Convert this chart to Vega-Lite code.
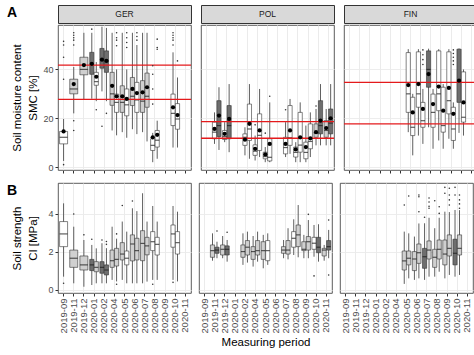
{
"$schema": "https://vega.github.io/schema/vega-lite/v6.json",
"padding": {"left": 6, "top": 4, "right": 0, "bottom": 0},
"config": {
  "font": "Liberation Sans",
  "view": {"stroke": "#333333", "strokeWidth": 0.8},
  "axis": {"domain": false, "tickColor": "#333333", "labelColor": "#4d4d4d", "labelFontSize": 9, "gridColor": "#ebebeb", "titleFontWeight": "normal", "titleFontSize": 11.5, "titleColor": "#000000", "tickSize": 3, "labelFont": "Liberation Sans", "titleFont": "Liberation Sans"}
},
"datasets": {
"ref": [
 {"c":"GER","r":41.8},{"c":"GER","r":27.7},{"c":"POL","r":18.6},{"c":"POL","r":11.8},{"c":"FIN","r":34.7},{"c":"FIN","r":17.7}
],
"box": [
{"c":"GER","v":"SMC","m":"2019-09","s":"S","f":"w","lo":2.5,"q1":9.5,"md":12.2,"q3":14.6,"hi":19.7,"mn":14.6},
{"c":"GER","v":"SMC","m":"2019-11","s":"S","f":"l","lo":22,"q1":30,"md":32,"q3":36,"hi":41,"mn":34},
{"c":"GER","v":"SMC","m":"2019-12","s":"S","f":"l","lo":27.5,"q1":37.8,"md":40,"q3":45,"hi":55,"mn":41.8},
{"c":"GER","v":"SMC","m":"2020-01","s":"L","f":"d","lo":28,"q1":38,"md":42,"q3":47,"hi":55,"mn":42.3},
{"c":"GER","v":"SMC","m":"2020-01","s":"R","f":"w","lo":27,"q1":33.5,"md":35,"q3":38.8,"hi":43,"mn":37},
{"c":"GER","v":"SMC","m":"2020-02","s":"L","f":"d","lo":31,"q1":40.5,"md":44,"q3":48.6,"hi":57.5,"mn":44},
{"c":"GER","v":"SMC","m":"2020-02","s":"R","f":"d","lo":27,"q1":38.8,"md":43.5,"q3":47.6,"hi":57,"mn":43.5},
{"c":"GER","v":"SMC","m":"2020-04","s":"L","f":"l","lo":15,"q1":25.3,"md":30,"q3":38.8,"hi":55,"mn":33.3},
{"c":"GER","v":"SMC","m":"2020-04","s":"R","f":"w","lo":13,"q1":22.4,"md":26.5,"q3":29.9,"hi":40,"mn":29},
{"c":"GER","v":"SMC","m":"2020-05","s":"L","f":"l","lo":14.3,"q1":22.4,"md":26.5,"q3":33.3,"hi":55,"mn":29},
{"c":"GER","v":"SMC","m":"2020-05","s":"R","f":"w","lo":12,"q1":21,"md":25.5,"q3":32,"hi":40,"mn":27.9},
{"c":"GER","v":"SMC","m":"2020-06","s":"L","f":"l","lo":15.5,"q1":25.2,"md":29,"q3":36.7,"hi":55,"mn":32},
{"c":"GER","v":"SMC","m":"2020-06","s":"R","f":"w","lo":13.5,"q1":22.4,"md":27.5,"q3":34.7,"hi":50,"mn":30.3},
{"c":"GER","v":"SMC","m":"2020-07","s":"L","f":"l","lo":14.3,"q1":22.4,"md":27,"q3":35.4,"hi":55,"mn":30.6},
{"c":"GER","v":"SMC","m":"2020-07","s":"R","f":"l","lo":10.5,"q1":24.5,"md":29,"q3":38.5,"hi":55,"mn":32.7},
{"c":"GER","v":"SMC","m":"2020-08","s":"L","f":"w","lo":2,"q1":6.8,"md":8.9,"q3":11.6,"hi":14,"mn":12.2},
{"c":"GER","v":"SMC","m":"2020-08","s":"R","f":"w","lo":3.4,"q1":8.2,"md":11,"q3":15,"hi":19,"mn":13.2},
{"c":"GER","v":"SMC","m":"2020-10","s":"L","f":"w","lo":8,"q1":17,"md":22,"q3":29.9,"hi":47,"mn":24.5},
{"c":"GER","v":"SMC","m":"2020-10","s":"R","f":"w","lo":8,"q1":15.5,"md":19.7,"q3":26,"hi":36.7,"mn":21.3},
{"c":"POL","v":"SMC","m":"2019-11","s":"L","f":"w","lo":9.5,"q1":11.6,"md":14.3,"q3":18.4,"hi":22.4,"mn":15.6},
{"c":"POL","v":"SMC","m":"2019-11","s":"R","f":"d","lo":7,"q1":12.5,"md":17,"q3":27.2,"hi":32.7,"mn":21.1},
{"c":"POL","v":"SMC","m":"2019-12","s":"L","f":"w","lo":10.2,"q1":11.3,"md":12.5,"q3":15,"hi":18.4,"mn":13.6},
{"c":"POL","v":"SMC","m":"2019-12","s":"R","f":"d","lo":6.1,"q1":11.6,"md":17,"q3":25.2,"hi":34,"mn":19.7},
{"c":"POL","v":"SMC","m":"2020-02","s":"L","f":"w","lo":4.8,"q1":8.9,"md":12.2,"q3":13.6,"hi":16.3,"mn":11.2},
{"c":"POL","v":"SMC","m":"2020-02","s":"R","f":"w","lo":3.4,"q1":10.9,"md":15.6,"q3":25.8,"hi":34,"mn":17.7},
{"c":"POL","v":"SMC","m":"2020-04","s":"L","f":"w","lo":2.7,"q1":4.8,"md":6.5,"q3":9.1,"hi":12.9,"mn":7.5},
{"c":"POL","v":"SMC","m":"2020-04","s":"R","f":"w","lo":4.1,"q1":6.8,"md":13,"q3":21.8,"hi":32,"mn":15},
{"c":"POL","v":"SMC","m":"2020-05","s":"L","f":"w","lo":2,"q1":3.4,"md":4.3,"q3":6.1,"hi":8.2,"mn":5.2},
{"c":"POL","v":"SMC","m":"2020-05","s":"R","f":"w","lo":2,"q1":2.5,"md":4,"q3":11.6,"hi":26.5,"mn":9.5},
{"c":"POL","v":"SMC","m":"2020-07","s":"L","f":"w","lo":4.1,"q1":5.4,"md":8,"q3":12.2,"hi":18.4,"mn":9.5},
{"c":"POL","v":"SMC","m":"2020-07","s":"R","f":"w","lo":5.4,"q1":8.9,"md":12,"q3":25.2,"hi":27.9,"mn":15},
{"c":"POL","v":"SMC","m":"2020-08","s":"L","f":"w","lo":2,"q1":4.1,"md":6,"q3":8.2,"hi":10.2,"mn":7.2},
{"c":"POL","v":"SMC","m":"2020-08","s":"R","f":"w","lo":2,"q1":6.1,"md":9,"q3":22.4,"hi":26.5,"mn":12.2},
{"c":"POL","v":"SMC","m":"2020-09","s":"L","f":"w","lo":2,"q1":3.4,"md":6,"q3":10.2,"hi":17,"mn":8.2},
{"c":"POL","v":"SMC","m":"2020-09","s":"R","f":"w","lo":4.1,"q1":7.5,"md":10.5,"q3":17.7,"hi":22.4,"mn":11.8},
{"c":"POL","v":"SMC","m":"2020-10","s":"L","f":"l","lo":8.9,"q1":12.2,"md":14,"q3":17.7,"hi":23.8,"mn":14.3},
{"c":"POL","v":"SMC","m":"2020-10","s":"R","f":"d","lo":8.9,"q1":13.6,"md":17,"q3":27.2,"hi":34,"mn":19},
{"c":"POL","v":"SMC","m":"2020-11","s":"L","f":"l","lo":8.9,"q1":12.2,"md":15,"q3":19,"hi":23.8,"mn":16},
{"c":"POL","v":"SMC","m":"2020-11","s":"R","f":"d","lo":8.9,"q1":13.6,"md":18,"q3":23.8,"hi":34,"mn":20},
{"c":"FIN","v":"SMC","m":"2020-05","s":"L","f":"w","lo":14.3,"q1":22.4,"md":30,"q3":46.9,"hi":48.3,"mn":33.6},
{"c":"FIN","v":"SMC","m":"2020-05","s":"R","f":"w","lo":4.8,"q1":12.9,"md":16.3,"q3":28.6,"hi":30,"mn":22.4},
{"c":"FIN","v":"SMC","m":"2020-06","s":"L","f":"w","lo":12.9,"q1":24.5,"md":30,"q3":47.2,"hi":48.3,"mn":34},
{"c":"FIN","v":"SMC","m":"2020-06","s":"R","f":"w","lo":9.5,"q1":16.3,"md":19,"q3":26.5,"hi":32,"mn":23.8},
{"c":"FIN","v":"SMC","m":"2020-07","s":"L","f":"d","lo":16.3,"q1":32.7,"md":40,"q3":47.6,"hi":48.5,"mn":38.1},
{"c":"FIN","v":"SMC","m":"2020-07","s":"R","f":"w","lo":7.5,"q1":16.3,"md":22.4,"q3":29.9,"hi":32,"mn":25.8},
{"c":"FIN","v":"SMC","m":"2020-08","s":"L","f":"w","lo":10.9,"q1":23.1,"md":30,"q3":47.6,"hi":48.3,"mn":33},
{"c":"FIN","v":"SMC","m":"2020-08","s":"R","f":"w","lo":7.5,"q1":14.3,"md":17,"q3":32.7,"hi":34,"mn":23.1},
{"c":"FIN","v":"SMC","m":"2020-09","s":"L","f":"w","lo":11.6,"q1":21.8,"md":27.2,"q3":47.2,"hi":48.3,"mn":32.4},
{"c":"FIN","v":"SMC","m":"2020-09","s":"R","f":"w","lo":7.5,"q1":10.9,"md":15.6,"q3":24.5,"hi":26.5,"mn":21.8},
{"c":"FIN","v":"SMC","m":"2020-10","s":"L","f":"d","lo":14,"q1":26.5,"md":35,"q3":48.3,"hi":48.6,"mn":35.4},
{"c":"FIN","v":"SMC","m":"2020-10","s":"R","f":"w","lo":12.9,"q1":18.4,"md":20.4,"q3":39,"hi":40,"mn":26.5},
{"c":"GER","v":"CI","m":"2019-09","s":"S","f":"w","lo":0.7,"q1":2.28,"md":2.95,"q3":3.6,"hi":4.56},
{"c":"GER","v":"CI","m":"2019-11","s":"S","f":"l","lo":0.35,"q1":1.19,"md":1.67,"q3":2.1,"hi":3.33},
{"c":"GER","v":"CI","m":"2019-12","s":"S","f":"l","lo":0.17,"q1":1.05,"md":1.32,"q3":1.79,"hi":2.63},
{"c":"GER","v":"CI","m":"2020-01","s":"L","f":"d","lo":0.26,"q1":1.02,"md":1.32,"q3":1.61,"hi":2.37},
{"c":"GER","v":"CI","m":"2020-01","s":"R","f":"l","lo":0.35,"q1":0.96,"md":1.19,"q3":1.49,"hi":2.19},
{"c":"GER","v":"CI","m":"2020-02","s":"L","f":"d","lo":0.35,"q1":0.88,"md":1.19,"q3":1.49,"hi":2.46},
{"c":"GER","v":"CI","m":"2020-02","s":"R","f":"d","lo":0.35,"q1":0.79,"md":1.05,"q3":1.32,"hi":2.2},
{"c":"GER","v":"CI","m":"2020-04","s":"L","f":"l","lo":0.53,"q1":1.19,"md":1.54,"q3":2.1,"hi":3.33},
{"c":"GER","v":"CI","m":"2020-04","s":"R","f":"l","lo":0.45,"q1":1.26,"md":1.61,"q3":2.19,"hi":2.7},
{"c":"GER","v":"CI","m":"2020-05","s":"L","f":"l","lo":0.53,"q1":1.58,"md":1.89,"q3":2.49,"hi":3.6},
{"c":"GER","v":"CI","m":"2020-05","s":"R","f":"w","lo":0.35,"q1":1.32,"md":1.67,"q3":2.05,"hi":3.07},
{"c":"GER","v":"CI","m":"2020-06","s":"L","f":"l","lo":0.35,"q1":1.53,"md":2.42,"q3":2.9,"hi":4.3},
{"c":"GER","v":"CI","m":"2020-06","s":"R","f":"l","lo":0.35,"q1":1.58,"md":2.07,"q3":2.72,"hi":4.15},
{"c":"GER","v":"CI","m":"2020-07","s":"L","f":"l","lo":0.35,"q1":1.54,"md":2.45,"q3":3.12,"hi":5.09},
{"c":"GER","v":"CI","m":"2020-07","s":"R","f":"l","lo":0.44,"q1":1.85,"md":2.32,"q3":2.77,"hi":3.6},
{"c":"GER","v":"CI","m":"2020-08","s":"L","f":"w","lo":0.53,"q1":2.07,"md":2.54,"q3":3.07,"hi":4.42},
{"c":"GER","v":"CI","m":"2020-08","s":"R","f":"w","lo":0.53,"q1":1.84,"md":2.4,"q3":2.77,"hi":3.6},
{"c":"GER","v":"CI","m":"2020-10","s":"L","f":"w","lo":0.53,"q1":2.25,"md":2.95,"q3":3.42,"hi":4.42},
{"c":"GER","v":"CI","m":"2020-10","s":"R","f":"w","lo":0.45,"q1":1.89,"md":2.49,"q3":3.07,"hi":4.12},
{"c":"POL","v":"CI","m":"2019-11","s":"L","f":"l","lo":1.54,"q1":1.72,"md":2.07,"q3":2.37,"hi":2.98},
{"c":"POL","v":"CI","m":"2019-11","s":"R","f":"d","lo":1.67,"q1":1.93,"md":2.1,"q3":2.25,"hi":2.54},
{"c":"POL","v":"CI","m":"2019-12","s":"L","f":"l","lo":1.67,"q1":1.84,"md":2.14,"q3":2.37,"hi":2.84},
{"c":"POL","v":"CI","m":"2019-12","s":"R","f":"d","lo":1.49,"q1":1.84,"md":2.14,"q3":2.32,"hi":2.63},
{"c":"POL","v":"CI","m":"2020-02","s":"L","f":"l","lo":1.32,"q1":1.72,"md":2.02,"q3":2.37,"hi":2.98},
{"c":"POL","v":"CI","m":"2020-02","s":"R","f":"l","lo":1.44,"q1":1.84,"md":2.25,"q3":2.6,"hi":3.07},
{"c":"POL","v":"CI","m":"2020-04","s":"L","f":"l","lo":1.23,"q1":1.61,"md":2.02,"q3":2.28,"hi":2.84},
{"c":"POL","v":"CI","m":"2020-04","s":"R","f":"l","lo":1.49,"q1":1.84,"md":2.07,"q3":2.6,"hi":3.07},
{"c":"POL","v":"CI","m":"2020-05","s":"L","f":"l","lo":1.14,"q1":1.61,"md":2.07,"q3":2.54,"hi":2.9},
{"c":"POL","v":"CI","m":"2020-05","s":"R","f":"w","lo":1.32,"q1":1.54,"md":2.07,"q3":2.6,"hi":2.98},
{"c":"POL","v":"CI","m":"2020-07","s":"L","f":"l","lo":1.67,"q1":1.93,"md":2.1,"q3":2.28,"hi":2.63},
{"c":"POL","v":"CI","m":"2020-07","s":"R","f":"l","lo":1.61,"q1":1.89,"md":2.1,"q3":2.6,"hi":3.25},
{"c":"POL","v":"CI","m":"2020-08","s":"L","f":"w","lo":1.84,"q1":2.25,"md":2.72,"q3":3.07,"hi":3.72},
{"c":"POL","v":"CI","m":"2020-08","s":"R","f":"l","lo":1.72,"q1":2.28,"md":2.9,"q3":3.42,"hi":4.47},
{"c":"POL","v":"CI","m":"2020-09","s":"L","f":"l","lo":1.67,"q1":2.07,"md":2.14,"q3":2.54,"hi":2.9},
{"c":"POL","v":"CI","m":"2020-09","s":"R","f":"l","lo":1.67,"q1":2.1,"md":2.54,"q3":2.81,"hi":3.68},
{"c":"POL","v":"CI","m":"2020-10","s":"L","f":"w","lo":1.75,"q1":2.14,"md":2.46,"q3":2.77,"hi":3.42},
{"c":"POL","v":"CI","m":"2020-10","s":"R","f":"d","lo":1.49,"q1":1.96,"md":2.25,"q3":2.77,"hi":3.46},
{"c":"POL","v":"CI","m":"2020-11","s":"L","f":"l","lo":1.54,"q1":1.79,"md":2.1,"q3":2.19,"hi":2.37},
{"c":"POL","v":"CI","m":"2020-11","s":"R","f":"d","lo":1.67,"q1":2.1,"md":2.28,"q3":2.6,"hi":3.16},
{"c":"FIN","v":"CI","m":"2020-05","s":"L","f":"l","lo":0.32,"q1":1.05,"md":1.53,"q3":2.05,"hi":3.07},
{"c":"FIN","v":"CI","m":"2020-05","s":"R","f":"l","lo":0.61,"q1":1.32,"md":1.67,"q3":2.05,"hi":2.98},
{"c":"FIN","v":"CI","m":"2020-06","s":"L","f":"l","lo":0.53,"q1":1.02,"md":1.63,"q3":2.02,"hi":2.81},
{"c":"FIN","v":"CI","m":"2020-06","s":"R","f":"l","lo":0.61,"q1":1.4,"md":1.96,"q3":2.42,"hi":3.5},
{"c":"FIN","v":"CI","m":"2020-07","s":"L","f":"d","lo":0.53,"q1":1.14,"md":1.75,"q3":2.19,"hi":3.51},
{"c":"FIN","v":"CI","m":"2020-07","s":"R","f":"l","lo":0.7,"q1":1.63,"md":2.1,"q3":2.58,"hi":3.8},
{"c":"FIN","v":"CI","m":"2020-08","s":"L","f":"l","lo":0.7,"q1":1.19,"md":1.72,"q3":2.14,"hi":3.25},
{"c":"FIN","v":"CI","m":"2020-08","s":"R","f":"l","lo":0.96,"q1":1.63,"md":2.14,"q3":2.63,"hi":3.8},
{"c":"FIN","v":"CI","m":"2020-09","s":"L","f":"l","lo":0.61,"q1":1.32,"md":1.89,"q3":2.63,"hi":4.12},
{"c":"FIN","v":"CI","m":"2020-09","s":"R","f":"l","lo":0.79,"q1":1.79,"md":2.19,"q3":2.9,"hi":4.1},
{"c":"FIN","v":"CI","m":"2020-10","s":"L","f":"d","lo":0.7,"q1":1.32,"md":1.93,"q3":2.67,"hi":4.21},
{"c":"FIN","v":"CI","m":"2020-10","s":"R","f":"l","lo":0.79,"q1":1.84,"md":2.19,"q3":2.9,"hi":4.2}
],
"out": [
{"c":"GER","v":"SMC","m":"2019-09","s":"S","val":1},{"c":"GER","v":"SMC","m":"2019-09","s":"S","val":36},{"c":"GER","v":"SMC","m":"2019-09","s":"S","val":45},{"c":"GER","v":"SMC","m":"2019-09","s":"S","val":50},{"c":"GER","v":"SMC","m":"2019-09","s":"S","val":51.5},
{"c":"GER","v":"SMC","m":"2019-11","s":"S","val":15},{"c":"GER","v":"SMC","m":"2019-11","s":"S","val":19},{"c":"GER","v":"SMC","m":"2019-11","s":"S","val":50},{"c":"GER","v":"SMC","m":"2019-11","s":"S","val":52},{"c":"GER","v":"SMC","m":"2019-11","s":"S","val":53},{"c":"GER","v":"SMC","m":"2019-11","s":"S","val":54},{"c":"GER","v":"SMC","m":"2019-11","s":"S","val":55},
{"c":"GER","v":"SMC","m":"2020-01","s":"L","val":56.5},{"c":"GER","v":"SMC","m":"2020-01","s":"R","val":23.5},
{"c":"GER","v":"SMC","m":"2020-02","s":"L","val":16.7},{"c":"GER","v":"SMC","m":"2020-02","s":"R","val":22},
{"c":"GER","v":"SMC","m":"2020-04","s":"R","val":49.7},{"c":"GER","v":"SMC","m":"2020-04","s":"R","val":52},{"c":"GER","v":"SMC","m":"2020-04","s":"R","val":53},{"c":"GER","v":"SMC","m":"2020-04","s":"R","val":55},
{"c":"GER","v":"SMC","m":"2020-05","s":"R","val":49},{"c":"GER","v":"SMC","m":"2020-05","s":"R","val":51},{"c":"GER","v":"SMC","m":"2020-05","s":"R","val":53},{"c":"GER","v":"SMC","m":"2020-05","s":"R","val":55},
{"c":"GER","v":"SMC","m":"2020-06","s":"R","val":52},{"c":"GER","v":"SMC","m":"2020-06","s":"R","val":53.5},{"c":"GER","v":"SMC","m":"2020-06","s":"R","val":55},
{"c":"GER","v":"SMC","m":"2020-08","s":"L","val":25.8},{"c":"GER","v":"SMC","m":"2020-08","s":"L","val":32},{"c":"GER","v":"SMC","m":"2020-08","s":"L","val":38},{"c":"GER","v":"SMC","m":"2020-08","s":"L","val":41.5},{"c":"GER","v":"SMC","m":"2020-08","s":"R","val":48.3},{"c":"GER","v":"SMC","m":"2020-08","s":"R","val":49},{"c":"GER","v":"SMC","m":"2020-08","s":"R","val":52.4},
{"c":"GER","v":"SMC","m":"2020-10","s":"L","val":50},{"c":"GER","v":"SMC","m":"2020-10","s":"L","val":52},{"c":"GER","v":"SMC","m":"2020-10","s":"L","val":53},{"c":"GER","v":"SMC","m":"2020-10","s":"L","val":54},{"c":"GER","v":"SMC","m":"2020-10","s":"L","val":55},{"c":"GER","v":"SMC","m":"2020-10","s":"R","val":43.5},
{"c":"POL","v":"SMC","m":"2020-04","s":"L","val":17.3},{"c":"POL","v":"SMC","m":"2020-05","s":"L","val":13.9},{"c":"POL","v":"SMC","m":"2020-05","s":"R","val":29},{"c":"POL","v":"SMC","m":"2020-07","s":"L","val":23.5},{"c":"POL","v":"SMC","m":"2020-10","s":"L","val":25},
{"c":"FIN","v":"SMC","m":"2020-06","s":"R","val":42},{"c":"FIN","v":"SMC","m":"2020-06","s":"R","val":44},{"c":"FIN","v":"SMC","m":"2020-06","s":"R","val":46},{"c":"FIN","v":"SMC","m":"2020-06","s":"R","val":48},
{"c":"FIN","v":"SMC","m":"2020-09","s":"R","val":42},{"c":"FIN","v":"SMC","m":"2020-09","s":"R","val":43.5},{"c":"FIN","v":"SMC","m":"2020-09","s":"R","val":45},{"c":"FIN","v":"SMC","m":"2020-09","s":"R","val":46.5},{"c":"FIN","v":"SMC","m":"2020-09","s":"R","val":48},
{"c":"GER","v":"CI","m":"2019-09","s":"S","val":0.35},{"c":"GER","v":"CI","m":"2019-11","s":"S","val":4.0},{"c":"GER","v":"CI","m":"2019-12","s":"S","val":2.9},
{"c":"GER","v":"CI","m":"2020-01","s":"L","val":2.67},{"c":"GER","v":"CI","m":"2020-02","s":"L","val":2.63},{"c":"GER","v":"CI","m":"2020-02","s":"R","val":2.4},{"c":"GER","v":"CI","m":"2020-02","s":"R","val":2.55},
{"c":"GER","v":"CI","m":"2020-04","s":"R","val":2.95},{"c":"GER","v":"CI","m":"2020-04","s":"R","val":0.3},{"c":"GER","v":"CI","m":"2020-05","s":"L","val":4.45},{"c":"GER","v":"CI","m":"2020-06","s":"L","val":4.68},
{"c":"GER","v":"CI","m":"2020-08","s":"L","val":0.3},{"c":"GER","v":"CI","m":"2020-10","s":"L","val":0.4},
{"c":"POL","v":"CI","m":"2019-11","s":"R","val":3.1},{"c":"POL","v":"CI","m":"2019-12","s":"R","val":3.04},{"c":"POL","v":"CI","m":"2020-09","s":"R","val":3.98},{"c":"POL","v":"CI","m":"2020-10","s":"L","val":0.74},{"c":"POL","v":"CI","m":"2020-11","s":"R","val":3.68},{"c":"POL","v":"CI","m":"2020-11","s":"R","val":0.79},
{"c":"FIN","v":"CI","m":"2020-05","s":"L","val":4.47},{"c":"FIN","v":"CI","m":"2020-05","s":"R","val":4.95},
{"c":"FIN","v":"CI","m":"2020-06","s":"R","val":4.12},{"c":"FIN","v":"CI","m":"2020-06","s":"R","val":4.91},{"c":"FIN","v":"CI","m":"2020-06","s":"R","val":5.0},
{"c":"FIN","v":"CI","m":"2020-07","s":"L","val":3.83},{"c":"FIN","v":"CI","m":"2020-07","s":"R","val":4.3},{"c":"FIN","v":"CI","m":"2020-07","s":"R","val":4.4},{"c":"FIN","v":"CI","m":"2020-07","s":"R","val":4.63},{"c":"FIN","v":"CI","m":"2020-07","s":"R","val":4.84},
{"c":"FIN","v":"CI","m":"2020-08","s":"L","val":4.7},{"c":"FIN","v":"CI","m":"2020-08","s":"R","val":4.03},{"c":"FIN","v":"CI","m":"2020-08","s":"R","val":4.38},
{"c":"FIN","v":"CI","m":"2020-09","s":"L","val":5.09},{"c":"FIN","v":"CI","m":"2020-09","s":"L","val":5.4},{"c":"FIN","v":"CI","m":"2020-09","s":"R","val":4.47},{"c":"FIN","v":"CI","m":"2020-09","s":"R","val":4.74},{"c":"FIN","v":"CI","m":"2020-09","s":"R","val":5.0},{"c":"FIN","v":"CI","m":"2020-09","s":"R","val":5.35},
{"c":"FIN","v":"CI","m":"2020-10","s":"L","val":5.0},{"c":"FIN","v":"CI","m":"2020-10","s":"L","val":5.4},{"c":"FIN","v":"CI","m":"2020-10","s":"R","val":4.3},{"c":"FIN","v":"CI","m":"2020-10","s":"R","val":4.53},{"c":"FIN","v":"CI","m":"2020-10","s":"R","val":4.74},{"c":"FIN","v":"CI","m":"2020-10","s":"R","val":5.0}
]
},
"spacing": 8,
"vconcat": [
{
 "hconcat": [
  {"spacing": 0, "vconcat": [
   {"width": 133, "height": 18, "view": {"fill": "#d9d9d9", "stroke": "#333333"}, "data": {"values": [{"c": "GER"}]},
    "title": {"text": "A", "orient": "top", "anchor": "start", "frame": "group", "offset": -15, "dx": -51, "fontSize": 14, "fontWeight": "bold", "color": "#000000"},
    "mark": {"type": "text", "fontSize": 8.5, "color": "#1a1a1a"}, "encoding": {"text": {"field": "c"}}},
   {"width": 133, "height": 145, "layer": [
    {"data": {"name": "box"}, "transform": [{"filter": "datum.v=='SMC' && datum.c=='GER'"}],
     "encoding": {
      "x": {"field": "m", "type": "ordinal", "scale": {"domain": ["2019-09","2019-11","2019-12","2020-01","2020-02","2020-04","2020-05","2020-06","2020-07","2020-08","2020-09","2020-10","2020-11"], "paddingInner": 0, "paddingOuter": 0.05}, "axis": {"labels": false, "title": null, "bandPosition": 0.5, "grid": true}},
      "xOffset": {"field": "s", "scale": {"domain": ["L","S","R"], "paddingInner": 0, "paddingOuter": 0.77}}},
     "layer": [
      {"mark": {"type": "rule", "color": "#4d4d4d", "strokeWidth": 0.9}, "encoding": {"y": {"field": "lo", "type": "quantitative", "scale": {"domain": [-1.2, 58.2], "nice": false, "zero": false}, "axis": {"values": [0,10,20,30,40,50], "labelExpr": "datum.value % 20 == 0 ? datum.label : ''", "tickOpacity": {"condition": {"test": "datum.value % 20 == 0", "value": 1}, "value": 0}, "gridWidth": {"condition": {"test": "datum.value % 20 == 0", "value": 0.9}, "value": 0.5}, "title": ["Soil moisture content", "SMC [%]"], "titleLineHeight": 16, "minExtent": 16, "maxExtent": 16, "titlePadding": 4}}, "y2": {"field": "hi"}}},
      {"transform": [{"filter": "datum.s=='S'"}], "mark": {"type": "bar", "width": 8, "stroke": "#333333", "strokeWidth": 0.6}, "encoding": {"y": {"field": "q1", "type": "quantitative"}, "y2": {"field": "q3"}, "fill": {"field": "f", "type": "nominal", "scale": {"domain": ["w","l","d"], "range": ["#ffffff","#d0d0d0","#6e6e6e"]}, "legend": null}}},
      {"transform": [{"filter": "datum.s!='S'"}], "mark": {"type": "bar", "width": 4.2, "stroke": "#333333", "strokeWidth": 0.6}, "encoding": {"y": {"field": "q1", "type": "quantitative"}, "y2": {"field": "q3"}, "fill": {"field": "f", "type": "nominal", "legend": null}}},
      {"transform": [{"filter": "datum.s=='S'"}], "mark": {"type": "tick", "size": 8, "thickness": 1.2, "color": "#1a1a1a"}, "encoding": {"y": {"field": "md", "type": "quantitative"}}},
      {"transform": [{"filter": "datum.s!='S'"}], "mark": {"type": "tick", "size": 4.2, "thickness": 1.2, "color": "#1a1a1a"}, "encoding": {"y": {"field": "md", "type": "quantitative"}}}
     ]},
    {"data": {"name": "ref"}, "transform": [{"filter": "datum.c=='GER'"}], "mark": {"type": "rule", "color": "#e41a1c", "strokeWidth": 1.3}, "encoding": {"y": {"field": "r", "type": "quantitative"}}},
    {"data": {"name": "box"}, "transform": [{"filter": "datum.v=='SMC' && datum.c=='GER'"}], "mark": {"type": "circle", "size": 18, "color": "#000000", "opacity": 1},
     "encoding": {"x": {"field": "m", "type": "ordinal"}, "xOffset": {"field": "s"}, "y": {"field": "mn", "type": "quantitative"}}},
    {"data": {"name": "out"}, "transform": [{"filter": "datum.v=='SMC' && datum.c=='GER'"}], "mark": {"type": "circle", "size": 2.5, "color": "#333333", "opacity": 1},
     "encoding": {"x": {"field": "m", "type": "ordinal"}, "xOffset": {"field": "s"}, "y": {"field": "val", "type": "quantitative"}}}
   ]}
  ]},
  {"spacing": 0, "vconcat": [
   {"width": 133, "height": 18, "view": {"fill": "#d9d9d9", "stroke": "#333333"}, "data": {"values": [{"c": "POL"}]},
    "mark": {"type": "text", "fontSize": 8.5, "color": "#1a1a1a"}, "encoding": {"text": {"field": "c"}}},
   {"width": 133, "height": 145, "layer": [
    {"data": {"name": "box"}, "transform": [{"filter": "datum.v=='SMC' && datum.c=='POL'"}],
     "encoding": {
      "x": {"field": "m", "type": "ordinal", "scale": {"domain": ["2019-09","2019-11","2019-12","2020-01","2020-02","2020-04","2020-05","2020-06","2020-07","2020-08","2020-09","2020-10","2020-11"], "paddingInner": 0, "paddingOuter": 0.05}, "axis": {"labels": false, "title": null, "bandPosition": 0.5, "grid": true}},
      "xOffset": {"field": "s", "scale": {"domain": ["L","S","R"], "paddingInner": 0, "paddingOuter": 0.77}}},
     "layer": [
      {"mark": {"type": "rule", "color": "#4d4d4d", "strokeWidth": 0.9}, "encoding": {"y": {"field": "lo", "type": "quantitative", "scale": {"domain": [-1.2, 58.2], "nice": false, "zero": false}, "axis": {"values": [0,10,20,30,40,50], "labels": false, "ticks": false, "title": null, "gridWidth": {"condition": {"test": "datum.value % 20 == 0", "value": 0.9}, "value": 0.5}, "minExtent": 0, "maxExtent": 0}}, "y2": {"field": "hi"}}},
      {"transform": [{"filter": "datum.s!='S'"}], "mark": {"type": "bar", "width": 4.2, "stroke": "#333333", "strokeWidth": 0.6}, "encoding": {"y": {"field": "q1", "type": "quantitative"}, "y2": {"field": "q3"}, "fill": {"field": "f", "type": "nominal", "scale": {"domain": ["w","l","d"], "range": ["#ffffff","#d0d0d0","#6e6e6e"]}, "legend": null}}},
      {"transform": [{"filter": "datum.s!='S'"}], "mark": {"type": "tick", "size": 4.2, "thickness": 1.2, "color": "#1a1a1a"}, "encoding": {"y": {"field": "md", "type": "quantitative"}}}
     ]},
    {"data": {"name": "ref"}, "transform": [{"filter": "datum.c=='POL'"}], "mark": {"type": "rule", "color": "#e41a1c", "strokeWidth": 1.3}, "encoding": {"y": {"field": "r", "type": "quantitative"}}},
    {"data": {"name": "box"}, "transform": [{"filter": "datum.v=='SMC' && datum.c=='POL'"}], "mark": {"type": "circle", "size": 18, "color": "#000000", "opacity": 1},
     "encoding": {"x": {"field": "m", "type": "ordinal"}, "xOffset": {"field": "s"}, "y": {"field": "mn", "type": "quantitative"}}},
    {"data": {"name": "out"}, "transform": [{"filter": "datum.v=='SMC' && datum.c=='POL'"}], "mark": {"type": "circle", "size": 2.5, "color": "#333333", "opacity": 1},
     "encoding": {"x": {"field": "m", "type": "ordinal"}, "xOffset": {"field": "s"}, "y": {"field": "val", "type": "quantitative"}}}
   ]}
  ]},
  {"spacing": 0, "vconcat": [
   {"width": 133, "height": 18, "view": {"fill": "#d9d9d9", "stroke": "#333333"}, "data": {"values": [{"c": "FIN"}]},
    "mark": {"type": "text", "fontSize": 8.5, "color": "#1a1a1a"}, "encoding": {"text": {"field": "c"}}},
   {"width": 133, "height": 145, "layer": [
    {"data": {"name": "box"}, "transform": [{"filter": "datum.v=='SMC' && datum.c=='FIN'"}],
     "encoding": {
      "x": {"field": "m", "type": "ordinal", "scale": {"domain": ["2019-09","2019-11","2019-12","2020-01","2020-02","2020-04","2020-05","2020-06","2020-07","2020-08","2020-09","2020-10","2020-11"], "paddingInner": 0, "paddingOuter": 0.05}, "axis": {"labels": false, "title": null, "bandPosition": 0.5, "grid": true}},
      "xOffset": {"field": "s", "scale": {"domain": ["L","S","R"], "paddingInner": 0, "paddingOuter": 0.77}}},
     "layer": [
      {"mark": {"type": "rule", "color": "#4d4d4d", "strokeWidth": 0.9}, "encoding": {"y": {"field": "lo", "type": "quantitative", "scale": {"domain": [-1.2, 58.2], "nice": false, "zero": false}, "axis": {"values": [0,10,20,30,40,50], "labels": false, "ticks": false, "title": null, "gridWidth": {"condition": {"test": "datum.value % 20 == 0", "value": 0.9}, "value": 0.5}, "minExtent": 0, "maxExtent": 0}}, "y2": {"field": "hi"}}},
      {"transform": [{"filter": "datum.s!='S'"}], "mark": {"type": "bar", "width": 4.2, "stroke": "#333333", "strokeWidth": 0.6}, "encoding": {"y": {"field": "q1", "type": "quantitative"}, "y2": {"field": "q3"}, "fill": {"field": "f", "type": "nominal", "scale": {"domain": ["w","l","d"], "range": ["#ffffff","#d0d0d0","#6e6e6e"]}, "legend": null}}},
      {"transform": [{"filter": "datum.s!='S'"}], "mark": {"type": "tick", "size": 4.2, "thickness": 1.2, "color": "#1a1a1a"}, "encoding": {"y": {"field": "md", "type": "quantitative"}}}
     ]},
    {"data": {"name": "ref"}, "transform": [{"filter": "datum.c=='FIN'"}], "mark": {"type": "rule", "color": "#e41a1c", "strokeWidth": 1.3}, "encoding": {"y": {"field": "r", "type": "quantitative"}}},
    {"data": {"name": "box"}, "transform": [{"filter": "datum.v=='SMC' && datum.c=='FIN'"}], "mark": {"type": "circle", "size": 18, "color": "#000000", "opacity": 1},
     "encoding": {"x": {"field": "m", "type": "ordinal"}, "xOffset": {"field": "s"}, "y": {"field": "mn", "type": "quantitative"}}},
    {"data": {"name": "out"}, "transform": [{"filter": "datum.v=='SMC' && datum.c=='FIN'"}], "mark": {"type": "circle", "size": 2.5, "color": "#333333", "opacity": 1},
     "encoding": {"x": {"field": "m", "type": "ordinal"}, "xOffset": {"field": "s"}, "y": {"field": "val", "type": "quantitative"}}}
   ]}
  ]}
 ], "spacing": 6
},
{
 "spacing": 6,
 "hconcat": [
  {"width": 133, "height": 110,
   "title": {"text": "B", "orient": "top", "anchor": "start", "frame": "group", "offset": -15, "dx": -51, "fontSize": 14, "fontWeight": "bold", "color": "#000000"},
   "layer": [
    {"data": {"name": "box"}, "transform": [{"filter": "datum.v=='CI' && datum.c=='GER'"}],
     "encoding": {
      "x": {"field": "m", "type": "ordinal", "scale": {"domain": ["2019-09","2019-11","2019-12","2020-01","2020-02","2020-04","2020-05","2020-06","2020-07","2020-08","2020-09","2020-10","2020-11"], "paddingInner": 0, "paddingOuter": 0.05}, "axis": {"labelAngle": -90, "labelFontSize": 9.5, "labelPadding": 2, "title": null, "bandPosition": 0.5, "grid": true}},
      "xOffset": {"field": "s", "scale": {"domain": ["L","S","R"], "paddingInner": 0, "paddingOuter": 0.77}}},
     "layer": [
      {"mark": {"type": "rule", "color": "#4d4d4d", "strokeWidth": 0.9}, "encoding": {"y": {"field": "lo", "type": "quantitative", "scale": {"domain": [-0.16, 5.63], "nice": false, "zero": false}, "axis": {"values": [0,1,2,3,4,5], "labelExpr": "datum.value % 2 == 0 ? datum.label : ''", "tickOpacity": {"condition": {"test": "datum.value % 2 == 0", "value": 1}, "value": 0}, "gridWidth": {"condition": {"test": "datum.value % 2 == 0", "value": 0.9}, "value": 0.5}, "title": ["Soil strength", "CI [MPa]"], "titleLineHeight": 16, "minExtent": 16, "maxExtent": 16, "titlePadding": 4}}, "y2": {"field": "hi"}}},
      {"transform": [{"filter": "datum.s=='S'"}], "mark": {"type": "bar", "width": 8, "stroke": "#333333", "strokeWidth": 0.6}, "encoding": {"y": {"field": "q1", "type": "quantitative"}, "y2": {"field": "q3"}, "fill": {"field": "f", "type": "nominal", "scale": {"domain": ["w","l","d"], "range": ["#ffffff","#d0d0d0","#6e6e6e"]}, "legend": null}}},
      {"transform": [{"filter": "datum.s!='S'"}], "mark": {"type": "bar", "width": 4.2, "stroke": "#333333", "strokeWidth": 0.6}, "encoding": {"y": {"field": "q1", "type": "quantitative"}, "y2": {"field": "q3"}, "fill": {"field": "f", "type": "nominal", "legend": null}}},
      {"transform": [{"filter": "datum.s=='S'"}], "mark": {"type": "tick", "size": 8, "thickness": 1.2, "color": "#1a1a1a"}, "encoding": {"y": {"field": "md", "type": "quantitative"}}},
      {"transform": [{"filter": "datum.s!='S'"}], "mark": {"type": "tick", "size": 4.2, "thickness": 1.2, "color": "#1a1a1a"}, "encoding": {"y": {"field": "md", "type": "quantitative"}}}
     ]},
    {"data": {"name": "out"}, "transform": [{"filter": "datum.v=='CI' && datum.c=='GER'"}], "mark": {"type": "circle", "size": 2.5, "color": "#333333", "opacity": 1},
     "encoding": {"x": {"field": "m", "type": "ordinal"}, "xOffset": {"field": "s"}, "y": {"field": "val", "type": "quantitative"}}}
   ]},
  {"width": 133, "height": 110,
   "layer": [
    {"data": {"name": "box"}, "transform": [{"filter": "datum.v=='CI' && datum.c=='POL'"}],
     "encoding": {
      "x": {"field": "m", "type": "ordinal", "scale": {"domain": ["2019-09","2019-11","2019-12","2020-01","2020-02","2020-04","2020-05","2020-06","2020-07","2020-08","2020-09","2020-10","2020-11"], "paddingInner": 0, "paddingOuter": 0.05}, "axis": {"labelAngle": -90, "labelFontSize": 9.5, "labelPadding": 2, "title": "Measuring period", "titlePadding": 4, "bandPosition": 0.5, "grid": true}},
      "xOffset": {"field": "s", "scale": {"domain": ["L","S","R"], "paddingInner": 0, "paddingOuter": 0.77}}},
     "layer": [
      {"mark": {"type": "rule", "color": "#4d4d4d", "strokeWidth": 0.9}, "encoding": {"y": {"field": "lo", "type": "quantitative", "scale": {"domain": [-0.16, 5.63], "nice": false, "zero": false}, "axis": {"values": [0,1,2,3,4,5], "labels": false, "ticks": false, "title": null, "gridWidth": {"condition": {"test": "datum.value % 2 == 0", "value": 0.9}, "value": 0.5}, "minExtent": 0, "maxExtent": 0}}, "y2": {"field": "hi"}}},
      {"transform": [{"filter": "datum.s!='S'"}], "mark": {"type": "bar", "width": 4.2, "stroke": "#333333", "strokeWidth": 0.6}, "encoding": {"y": {"field": "q1", "type": "quantitative"}, "y2": {"field": "q3"}, "fill": {"field": "f", "type": "nominal", "scale": {"domain": ["w","l","d"], "range": ["#ffffff","#d0d0d0","#6e6e6e"]}, "legend": null}}},
      {"transform": [{"filter": "datum.s!='S'"}], "mark": {"type": "tick", "size": 4.2, "thickness": 1.2, "color": "#1a1a1a"}, "encoding": {"y": {"field": "md", "type": "quantitative"}}}
     ]},
    {"data": {"name": "out"}, "transform": [{"filter": "datum.v=='CI' && datum.c=='POL'"}], "mark": {"type": "circle", "size": 2.5, "color": "#333333", "opacity": 1},
     "encoding": {"x": {"field": "m", "type": "ordinal"}, "xOffset": {"field": "s"}, "y": {"field": "val", "type": "quantitative"}}}
   ]},
  {"width": 133, "height": 110,
   "layer": [
    {"data": {"name": "box"}, "transform": [{"filter": "datum.v=='CI' && datum.c=='FIN'"}],
     "encoding": {
      "x": {"field": "m", "type": "ordinal", "scale": {"domain": ["2019-09","2019-11","2019-12","2020-01","2020-02","2020-04","2020-05","2020-06","2020-07","2020-08","2020-09","2020-10","2020-11"], "paddingInner": 0, "paddingOuter": 0.05}, "axis": {"labelAngle": -90, "labelFontSize": 9.5, "labelPadding": 2, "title": null, "bandPosition": 0.5, "grid": true}},
      "xOffset": {"field": "s", "scale": {"domain": ["L","S","R"], "paddingInner": 0, "paddingOuter": 0.77}}},
     "layer": [
      {"mark": {"type": "rule", "color": "#4d4d4d", "strokeWidth": 0.9}, "encoding": {"y": {"field": "lo", "type": "quantitative", "scale": {"domain": [-0.16, 5.63], "nice": false, "zero": false}, "axis": {"values": [0,1,2,3,4,5], "labels": false, "ticks": false, "title": null, "gridWidth": {"condition": {"test": "datum.value % 2 == 0", "value": 0.9}, "value": 0.5}, "minExtent": 0, "maxExtent": 0}}, "y2": {"field": "hi"}}},
      {"transform": [{"filter": "datum.s!='S'"}], "mark": {"type": "bar", "width": 4.2, "stroke": "#333333", "strokeWidth": 0.6}, "encoding": {"y": {"field": "q1", "type": "quantitative"}, "y2": {"field": "q3"}, "fill": {"field": "f", "type": "nominal", "scale": {"domain": ["w","l","d"], "range": ["#ffffff","#d0d0d0","#6e6e6e"]}, "legend": null}}},
      {"transform": [{"filter": "datum.s!='S'"}], "mark": {"type": "tick", "size": 4.2, "thickness": 1.2, "color": "#1a1a1a"}, "encoding": {"y": {"field": "md", "type": "quantitative"}}}
     ]},
    {"data": {"name": "out"}, "transform": [{"filter": "datum.v=='CI' && datum.c=='FIN'"}], "mark": {"type": "circle", "size": 2.5, "color": "#333333", "opacity": 1},
     "encoding": {"x": {"field": "m", "type": "ordinal"}, "xOffset": {"field": "s"}, "y": {"field": "val", "type": "quantitative"}}}
   ]}
 ]
}
]
}
